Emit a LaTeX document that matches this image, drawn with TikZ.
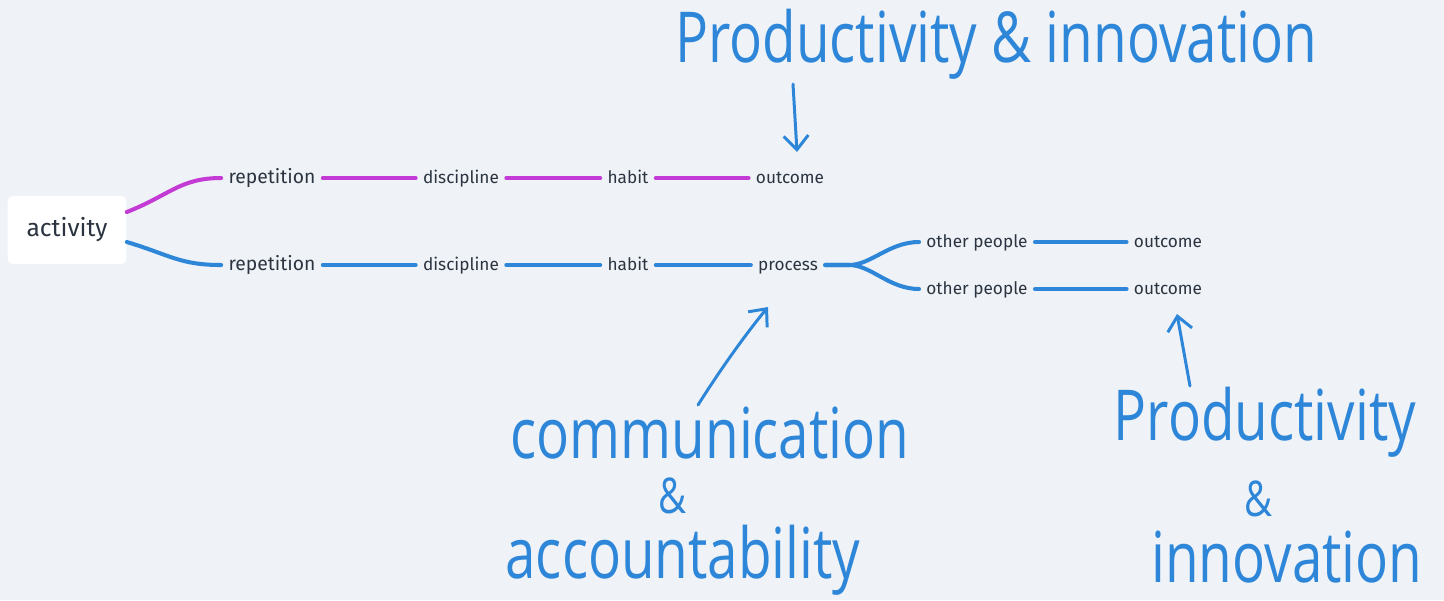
\documentclass[tikz,border=0pt]{standalone}
\usepackage{fontspec}
\setmainfont{Fira Sans}
\newfontfamily\hand[FakeStretch=0.78]{Open Sans}
\usetikzlibrary{arrows.meta}
\definecolor{bgcol}{HTML}{EFF3F7}
\definecolor{ink}{HTML}{2B3440}
\definecolor{magline}{HTML}{C33BD4}
\definecolor{blueline}{HTML}{2E86D9}
\begin{document}
\begin{tikzpicture}[x=0.02cm, y=-0.02cm,
    root/.style = {fill=white, rounded corners=3pt, minimum width=2.38cm, minimum height=1.36cm, text=ink, font=\fontsize{14}{16}\selectfont},
    first/.style = {text=ink, inner sep=4pt, text height=1.6ex, text depth=.4ex, font=\fontsize{11}{13}\selectfont},
    main/.style = {text=ink, inner sep=4pt, text height=1.6ex, text depth=.4ex, font=\fontsize{9.8}{12}\selectfont},
    note/.style = {text=blueline, inner sep=0pt, anchor=base, text height=0.72em, text depth=0pt, font=\hand\fontsize{40}{44}\selectfont},
    amp/.style = {note, font=\hand\fontsize{28}{30}\selectfont},
    mag/.style = {draw=magline, line width=2.3pt, line cap=round},
    blu/.style = {draw=blueline, line width=2.3pt, line cap=round},
    arr/.style = {draw=blueline, line width=1.7pt, line cap=round, -{Straight Barb[length=8pt, width=14pt, line width=1.7pt]}}]
\fill[bgcol] (0,0) rectangle (1444,600);
% mind map
\node[root] (act) at (67,230) {activity};
\node[first] (rep1) at (272,178) {repetition};
\node[main] (dis1) at (461,178) {discipline};
\node[main] (hab1) at (628,178) {habit};
\node[main] (out1) at (790,178) {outcome};
\node[first] (rep2) at (272,265) {repetition};
\node[main] (dis2) at (461,265) {discipline};
\node[main] (hab2) at (628,265) {habit};
\node[main] (proc) at (788,265) {process};
\node[main] (op1) at (977,242) {other people};
\node[main] (op2) at (977,289) {other people};
\node[main] (out2) at (1168,242) {outcome};
\node[main] (out3) at (1168,289) {outcome};
\draw[mag] (act.east |- 0,212) .. controls (170,195) and (180,178) .. (rep1.west);
\draw[mag] (rep1) -- (dis1);
\draw[mag] (dis1) -- (hab1);
\draw[mag] (hab1) -- (out1);
\draw[blu] (act.east |- 0,242) .. controls (170,255) and (180,265) .. (rep2.west);
\draw[blu] (rep2) -- (dis2);
\draw[blu] (dis2) -- (hab2);
\draw[blu] (hab2) -- (proc);
\draw[blu] (proc.east) -- ++(24,0) .. controls +(22,0) and +(-30,0) .. (op1.west);
\draw[blu] (proc.east) -- ++(24,0) .. controls +(22,0) and +(-30,0) .. (op2.west);
\draw[blu] (op1) -- (out2);
\draw[blu] (op2) -- (out3);
% notes
\node[note] (prodtop) at (996,62) {Productivity \& innovation};
\node[note] (comm) at (710,458) {communication};
\node[amp] (and1) at (672,513) {\&};
\node[note] (acct) at (683,578) {accountability};
\node[note] (prodr) at (1265,440) {Productivity};
\node[amp] (and2) at (1258,516) {\&};
\node[note] (innov) at (1287,582) {innovation};
\coordinate (a1s) at (793,84);
\coordinate (a1e) at (797,152);
\coordinate (a2s) at (698,405);
\coordinate (a2e) at (768,307);
\coordinate (a3s) at (1190,386);
\coordinate (a3e) at (1177,314);
\draw[arr] (a1s) -- (a1e);
\draw[arr] (a2s) .. controls (720,370) and (745,335) .. (a2e);
\draw[arr] (a3s) -- (a3e);
\end{tikzpicture}
\end{document}
